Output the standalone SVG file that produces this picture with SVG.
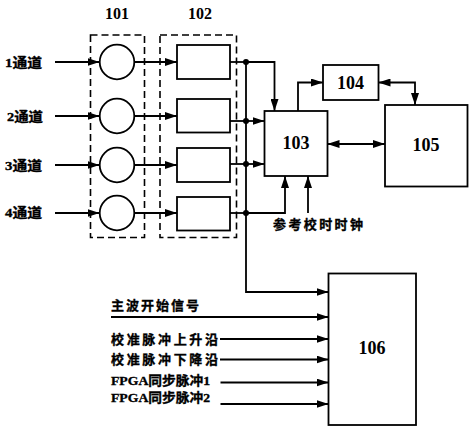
<svg xmlns="http://www.w3.org/2000/svg" width="474" height="432" viewBox="0 0 474 432">
<style>
.ln{fill:none;stroke:#000;stroke-width:1.8}
.bx{fill:#fff;stroke:#000;stroke-width:1.8}
.dash{fill:none;stroke:#000;stroke-width:1.6;stroke-dasharray:7,4}
.arr{marker-end:url(#ah)}
.dbl{marker-end:url(#ah);marker-start:url(#ah)}
.num{font-family:"Liberation Serif","Noto Sans CJK SC",serif;font-weight:bold;font-size:18px;text-anchor:middle;dominant-baseline:central}
.lab{font-family:"Liberation Serif","Noto Sans CJK SC",serif;font-weight:bold;font-size:13px;dominant-baseline:central;stroke:#000;stroke-width:0.35}
</style>
<defs>
<marker id="ah" markerUnits="userSpaceOnUse" markerWidth="12" markerHeight="8" refX="12" refY="4" orient="auto-start-reverse">
<path d="M0,0 L12,4 L0,8 z" fill="#000"/>
</marker>
</defs>
<rect width="474" height="432" fill="#fff"/>

<g id="group101">
<rect class="dash" x="90.5" y="35" width="54" height="202.5"/>
<text class="num" x="117" y="13" style="font-size:16px">101</text>
</g>
<g id="group102">
<rect class="dash" x="160" y="35" width="76.5" height="202.5"/>
<text class="num" x="200" y="13" style="font-size:16px">102</text>
</g>

<g id="connectors">
<line class="ln arr" x1="55" y1="62" x2="99.5" y2="62"/>
<line class="ln arr" x1="55" y1="116" x2="99.5" y2="116"/>
<line class="ln arr" x1="55" y1="165" x2="99.5" y2="165"/>
<line class="ln arr" x1="55" y1="213" x2="99.5" y2="213"/>
<line class="ln arr" x1="134" y1="62" x2="177" y2="62"/>
<line class="ln arr" x1="134" y1="116" x2="177" y2="116"/>
<line class="ln arr" x1="134" y1="165" x2="177" y2="165"/>
<line class="ln arr" x1="134" y1="213" x2="177" y2="213"/>
<line class="ln" x1="230" y1="62" x2="246" y2="62"/>
<line class="ln" x1="230" y1="121" x2="246" y2="121"/>
<line class="ln" x1="230" y1="164" x2="246" y2="164"/>
<line class="ln" x1="230" y1="213" x2="246" y2="213"/>
<polyline class="ln arr" points="246,62 274.5,62 274.5,111"/>
<line class="ln arr" x1="246" y1="121" x2="264.5" y2="121"/>
<line class="ln arr" x1="246" y1="164" x2="264.5" y2="164"/>
<polyline class="ln arr" points="246,213 285,213 285,176"/>
<line class="ln arr" x1="308" y1="213" x2="308" y2="176"/>
<polyline class="ln arr" points="298,111 298,82.5 323,82.5"/>
<polyline class="ln dbl" points="378.5,82.5 415,82.5 415,105"/>
<line class="ln dbl" x1="327.5" y1="144" x2="385" y2="144"/>
<polyline class="ln arr" points="246,62 246,292 328.5,292"/>
<line class="ln arr" x1="111" y1="317" x2="328.5" y2="317"/>
<line class="ln arr" x1="220" y1="339" x2="328.5" y2="339"/>
<line class="ln arr" x1="220" y1="359.5" x2="328.5" y2="359.5"/>
<line class="ln arr" x1="220.5" y1="382.5" x2="328.5" y2="382.5"/>
<line class="ln arr" x1="220.5" y1="404" x2="328.5" y2="404"/>
<circle cx="246" cy="62" r="3" fill="#000"/>
<circle cx="246" cy="121" r="3" fill="#000"/>
<circle cx="246" cy="164" r="3" fill="#000"/>
<circle cx="246" cy="213" r="3" fill="#000"/>
</g>

<g id="circle1"><circle class="bx" cx="117" cy="62" r="17.3"/></g>
<g id="circle2"><circle class="bx" cx="117" cy="116" r="17.3"/></g>
<g id="circle3"><circle class="bx" cx="117" cy="165" r="17.3"/></g>
<g id="circle4"><circle class="bx" cx="117" cy="213" r="17.3"/></g>

<g id="rect1"><rect class="bx" x="177" y="45" width="53" height="34"/></g>
<g id="rect2"><rect class="bx" x="177" y="99" width="53" height="33.5"/></g>
<g id="rect3"><rect class="bx" x="177" y="148" width="53" height="34"/></g>
<g id="rect4"><rect class="bx" x="177" y="197" width="53" height="33.5"/></g>

<g id="n103"><rect class="bx" x="264.5" y="111" width="63" height="65"/><text class="num" x="296" y="143">103</text></g>
<g id="n104"><rect class="bx" x="323" y="65" width="55.5" height="35"/><text class="num" x="350.5" y="82.5">104</text></g>
<g id="n105"><rect class="bx" x="385" y="105" width="82.5" height="81.5"/><text class="num" x="426" y="145">105</text></g>
<g id="n106"><rect class="bx" x="328.5" y="273.5" width="87.5" height="151.5"/><text class="num" x="372" y="348">106</text></g>

<g id="labels">
<text class="lab" x="5" y="62" textLength="37" lengthAdjust="spacingAndGlyphs">1通道</text>
<text class="lab" x="7" y="116" textLength="36" lengthAdjust="spacingAndGlyphs">2通道</text>
<text class="lab" x="5" y="165" textLength="37" lengthAdjust="spacingAndGlyphs">3通道</text>
<text class="lab" x="5" y="212" textLength="37" lengthAdjust="spacingAndGlyphs">4通道</text>
<text class="lab" x="273" y="224" textLength="90" lengthAdjust="spacing">参考校时时钟</text>
<text class="lab" x="111" y="305.5" textLength="88" lengthAdjust="spacing">主波开始信号</text>
<text class="lab" x="111" y="339" textLength="107" lengthAdjust="spacing">校准脉冲上升沿</text>
<text class="lab" x="111" y="359.5" textLength="107" lengthAdjust="spacing">校准脉冲下降沿</text>
<text class="lab" x="111" y="380" textLength="99" lengthAdjust="spacingAndGlyphs">FPGA同步脉冲1</text>
<text class="lab" x="111" y="397" textLength="99" lengthAdjust="spacingAndGlyphs">FPGA同步脉冲2</text>
</g>
</svg>
